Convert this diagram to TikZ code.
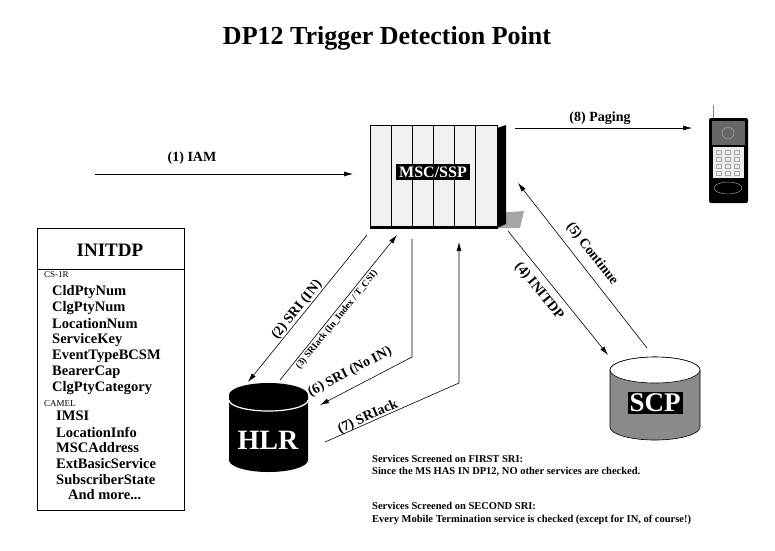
\documentclass[tikz,border=0pt]{standalone}
\usepackage{fontspec}
\setmainfont{Liberation Serif}
\begin{document}
\begin{tikzpicture}[x=1pt,y=-1pt,
  lbl/.style={font=\bfseries\fontsize{14}{14}\selectfont, inner sep=1pt},
  arr/.style={-{Latex[length=9pt,width=5pt]}, line width=0.6pt},
  item/.style={font=\bfseries\fontsize{14.5}{14.5}\selectfont, anchor=west, inner sep=0pt},
  small/.style={font=\fontsize{9}{9}\selectfont, anchor=west, inner sep=0pt},
  note/.style={font=\bfseries\fontsize{10.5}{12.5}\selectfont, anchor=north west, align=left, inner sep=0pt}]
\usetikzlibrary{arrows.meta}
\useasboundingbox (0,0) rectangle (775,550);
\fill[white] (0,0) rectangle (775,550);
% title
\node[font=\bfseries\fontsize{26}{26}\selectfont] (title) at (387,38) {DP12 Trigger Detection Point};
% MSC
\fill[gray!70] (497,213) -- (524,211) -- (520,228) -- (497,228) -- cycle;
\fill[black] (497,128) -- (506,125) -- (506,224) -- (497,228) -- cycle;
\draw[fill=gray!12, line width=0.6pt] (370,125) rectangle (497,228);
\foreach \x in {391,412,433,454,475} \draw[line width=0.8pt] (\x,125) -- (\x,228);
\draw[line width=2pt] (370,227) -- (497,227);
\node[fill=black, text=white, font=\bfseries\fontsize{16}{16}\selectfont, inner sep=3pt] (msc) at (433,172) {MSC/SSP};
% phone
\draw[gray, line width=0.6pt] (713,105) -- (713,120);
\fill[black, rounded corners=2pt] (709,118) rectangle (748,203);
\fill[gray!80!black] (712,121) rectangle (745,145);
\draw[gray!60] (728,133) circle (6);
\fill[gray!15] (713,147) rectangle (744,178);
\foreach \i in {0,1,2} \foreach \j in {0,1,2,3}
  \draw[gray!70, line width=0.4pt] (716+\i*9,150+\j*7) rectangle ++(5,4);
\draw[gray!60] (728,188) ellipse (14 and 6);
\coordinate (phone) at (692,128);
% INITDP box
\draw[line width=0.8pt] (37,228) rectangle (184,510);
\draw[line width=0.8pt] (37,269) -- (184,269);
\node[font=\bfseries\fontsize{19}{19}\selectfont] (ititle) at (110,250) {INITDP};
\node[small] (cs) at (44,275) {CS-1R};
\node[item] (i1) at (52,292) {CldPtyNum};
\node[item] (i2) at (52,308) {ClgPtyNum};
\node[item] (i3) at (52,324) {LocationNum};
\node[item] (i4) at (52,340) {ServiceKey};
\node[item] (i5) at (52,356) {EventTypeBCSM};
\node[item] (i6) at (52,372) {BearerCap};
\node[item] (i7) at (52,388) {ClgPtyCategory};
\node[small] (cam) at (44,404) {CAMEL};
\node[item] (c1) at (56,416) {IMSI};
\node[item] (c2) at (56,432) {LocationInfo};
\node[item] (c3) at (56,448) {MSCAddress};
\node[item] (c4) at (56,464) {ExtBasicService};
\node[item] (c5) at (56,480) {SubscriberState};
\node[item] (c6) at (68,495) {And more...};
% HLR
\fill[black] (229,395) -- (229,460) arc[start angle=180,end angle=0,x radius=39.5,y radius=12] -- (308,395) arc[start angle=0,end angle=-180,x radius=39.5,y radius=12] -- cycle;
\draw[white, line width=1.2pt] (229,400) arc[start angle=180,end angle=0,x radius=39.5,y radius=11];
\node[text=white, font=\bfseries\fontsize{28}{28}\selectfont] (hlr) at (268,440) {HLR};
% SCP
\draw[fill=gray!85!black!80, line width=0.6pt] (610,370) -- (610,427) arc[start angle=180,end angle=0,x radius=45,y radius=13] -- (700,370) arc[start angle=0,end angle=-180,x radius=45,y radius=13] -- cycle;
\draw[fill=white, line width=0.6pt] (655,370) ellipse (45 and 13);
\node[fill=black, text=white, font=\bfseries\fontsize{27}{27}\selectfont, inner sep=2pt] (scp) at (655,403) {SCP};
% coordinates
\coordinate (iamS) at (95,174); \coordinate (iamE) at (353,174);
\coordinate (pagS) at (515,128);
\coordinate (a2s) at (367,235); \coordinate (a2e) at (248,382);
\coordinate (a3s) at (280,380); \coordinate (a3e) at (397,235);
\coordinate (a6s) at (412,239); \coordinate (a6m) at (412,357); \coordinate (a6e) at (320,405);
\coordinate (a7s) at (325,442); \coordinate (a7m) at (459,383); \coordinate (a7e) at (459,242);
\coordinate (a4s) at (508,231); \coordinate (a4e) at (608,355);
\coordinate (a5s) at (647,348); \coordinate (a5e) at (518,183);
% arrows
\draw[arr] (iamS) -- (iamE);
\node[lbl] (l1) at (192,158) {(1) IAM};
\draw[arr] (pagS) -- (phone);
\node[lbl] (l8) at (600,118) {(8) Paging};
\draw[arr] (a2s) -- (a2e);
\node[lbl, rotate=51] (l2) at (297,310) {(2) SRI (IN)};
\draw[arr] (a3s) -- (a3e);
\node[lbl, rotate=51, font=\bfseries\fontsize{9.5}{9.5}\selectfont] (l3) at (337,320) {(3) SRIack (In\_Index / T\_CSI)};
\draw[arr] (a6s) -- (a6m) -- (a6e);
\node[lbl, rotate=27.5] (l6) at (350,372) {(6) SRI (No IN)};
\draw[arr] (a7s) -- (a7m) -- (a7e);
\node[lbl, rotate=24] (l7) at (368,417) {(7) SRIack};
\draw[arr] (a4s) -- (a4e);
\node[lbl, rotate=-51] (l4) at (539,291) {(4) INITDP};
\draw[arr] (a5s) -- (a5e);
\node[lbl, rotate=-52] (l5) at (592,254) {(5) Continue};
% notes
\node[note] (n1) at (372,455) {Services Screened on FIRST SRI:\\Since the MS HAS IN DP12, NO other services are checked.};
\node[note] (n2) at (372,502) {Services Screened on SECOND SRI:\\Every Mobile Termination service is checked (except for IN, of course!)};
\end{tikzpicture}
\end{document}
